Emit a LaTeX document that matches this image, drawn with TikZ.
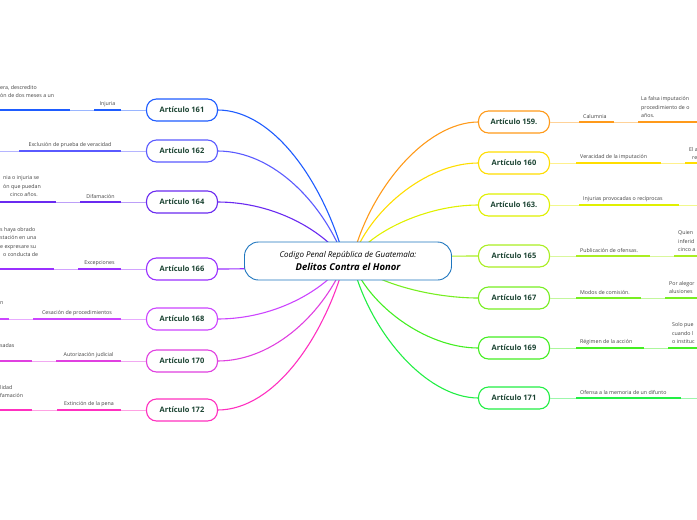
\documentclass[tikz,border=0pt]{standalone}
\usepackage{fontspec}
\setmainfont{Open Sans}
\definecolor{cA}{HTML}{1E5CFF}
\definecolor{cB}{HTML}{5A5AFF}
\definecolor{cC}{HTML}{6A2AF0}
\definecolor{cD}{HTML}{9A30FF}
\definecolor{cE}{HTML}{CC44FF}
\definecolor{cF}{HTML}{E040E0}
\definecolor{cG}{HTML}{FF30C0}
\definecolor{dA}{HTML}{FF9A1A}
\definecolor{dB}{HTML}{FFDD00}
\definecolor{dC}{HTML}{E0F000}
\definecolor{dD}{HTML}{AAEE22}
\definecolor{dE}{HTML}{77EE22}
\definecolor{dF}{HTML}{44EE22}
\definecolor{dG}{HTML}{22EE44}
\definecolor{dark}{HTML}{1B4332}
\tikzset{
 art/.style={draw=#1,line width=1.1pt,fill=white,rounded corners=10pt,minimum width=71pt,minimum height=22pt,font=\fontsize{7.5}{9}\selectfont\bfseries,text=dark},
 topic/.style={font=\fontsize{5.3}{6.5}\selectfont,text=black!75,inner sep=1pt,anchor=south},
 note/.style={font=\fontsize{5.3}{8.5}\selectfont,text=black!75,align=left,inner sep=0pt},
 conn/.style={line width=1.1pt,draw=#1},
 base/.style={line width=0.7pt,draw=#1!45},
 ul/.style={line width=1.5pt,draw=#1},
}
\begin{document}
\begin{tikzpicture}[x=1pt,y=-1pt]
\useasboundingbox (0,0) rectangle (697,520);
\coordinate (cl) at (345,261);
\coordinate (cr) at (352,261);
% left side
\foreach \n/\y/\c/\t/\ua/\ub/\k in {a/110/cA/Injuria/94/121/70, b/151/cB/Exclusión de prueba de veracidad/19/121/0, c/202/cC/Difamación/80/121/56, d/269/cD/Excepciones/78/121/54, e/319/cE/Cesación de procedimientos/33/121/9, f/361/cF/Autorización judicial/56/121/32, g/410/cG/Extinción de la pena/57/121/32}{
 \coordinate (L\n) at (0,\y);
 \draw[conn=\c] (182+35.5,\y) .. controls (275,\y) and (325,{(\y+261)/2}) .. (cl);
 \node[art=\c] (A\n) at (182,\y) {};
 \draw[base=\c] (A\n.west) -- (L\n);
 \draw[ul=\c] (\ua,\y) -- (\ub,\y);
 \ifnum\k>0 \draw[ul=\c] (0,\y) -- (\k,\y);\fi
 \node[topic] (T\n) at ({(\ua+\ub)/2},\y-2) {\t};
}
\node[font=\fontsize{7.5}{9}\selectfont\bfseries,text=dark] at (Aa) {Artículo 161};
\node[font=\fontsize{7.5}{9}\selectfont\bfseries,text=dark] at (Ab) {Artículo 162};
\node[font=\fontsize{7.5}{9}\selectfont\bfseries,text=dark] at (Ac) {Artículo 164};
\node[font=\fontsize{7.5}{9}\selectfont\bfseries,text=dark] at (Ad) {Artículo 166};
\node[font=\fontsize{7.5}{9}\selectfont\bfseries,text=dark] at (Ae) {Artículo 168};
\node[font=\fontsize{7.5}{9}\selectfont\bfseries,text=dark] at (Af) {Artículo 170};
\node[font=\fontsize{7.5}{9}\selectfont\bfseries,text=dark] at (Ag) {Artículo 172};
\node[note,anchor=south west] (Na) at (0,98) {era, descredito\\ón de dos meses a un};
\node[note,anchor=south west] (Nc) at (3,197) {nia o injuria se\\ón que puedan\\\hspace*{7pt}cinco años.};
\node[note,anchor=south west] (Nd) at (0,257) {s haya obrado\\stación en una\\e expresare su\\\hspace*{3pt}o conducta de};
\node[note,anchor=south west] (Ne) at (0,305) {n};
\node[note,anchor=south west] (Nf) at (0,348) {sadas};
\node[note,anchor=south west] (Ng) at (0,398) {lidad\\famación};
% right side
\foreach \n/\y/\c/\t/\ua/\ub/\k in {a/122/dA/Calumnia/579/614/638, b/163/dB/Veracidad de la imputación/576/661/685, c/205/dC/Injurias provocadas o recíprocas/579/679/0, d/256/dD/Publicación de ofensas./576/650/674, e/298/dE/Modos de comisión./576/641/665, f/348/dF/Régimen de la acción/576/644/668, g/398/dG/Ofensa a la memoria de un difunto/576/681/0}{
 \coordinate (R\n) at (697,\y);
 \draw[conn=\c] (514-35.5,\y) .. controls (425,\y) and (368,{(\y+261)/2}) .. (cr);
 \node[art=\c] (B\n) at (514,\y) {};
 \draw[base=\c] (B\n.east) -- (R\n);
 \draw[ul=\c] (\ua,\y) -- (\ub,\y);
 \ifnum\k>0 \draw[ul=\c] (\k,\y) -- (697,\y);\fi
 \node[topic,anchor=south west] (U\n) at (\ua+3,\y-2) {\t};
}
\node[font=\fontsize{7.5}{9}\selectfont\bfseries,text=dark] at (Ba) {Artículo 159.};
\node[font=\fontsize{7.5}{9}\selectfont\bfseries,text=dark] at (Bb) {Artículo 160};
\node[font=\fontsize{7.5}{9}\selectfont\bfseries,text=dark] at (Bc) {Artículo 163.};
\node[font=\fontsize{7.5}{9}\selectfont\bfseries,text=dark] at (Bd) {Artículo 165};
\node[font=\fontsize{7.5}{9}\selectfont\bfseries,text=dark] at (Be) {Artículo 167};
\node[font=\fontsize{7.5}{9}\selectfont\bfseries,text=dark] at (Bf) {Artículo 169};
\node[font=\fontsize{7.5}{9}\selectfont\bfseries,text=dark] at (Bg) {Artículo 171};
\node[note,anchor=south west] (Ma) at (641,118) {La falsa imputación\\procedimiento de o\\años.};
\node[note,anchor=south west] (Mb) at (689,160) {El a\\\hspace*{3pt}res};
\node[note,anchor=south west] (Md) at (678,252) {Quien\\inferid\\cinco a};
\node[note,anchor=south west] (Me) at (669,294) {Por alegor\\alusiones};
\node[note,anchor=south west] (Mf) at (672,344) {Solo pue\\cuando l\\o instituc};
% center
\node[draw=black!10!cyan!60!blue,line width=0.9pt,fill=white,rounded corners=14pt,minimum width=207pt,minimum height=38pt,align=center,font=\itshape] (C) at (348,261)
 {{\fontsize{8}{10}\selectfont Codigo Penal República de Guatemala:}\\[1pt]{\fontsize{9.5}{11}\selectfont\bfseries Delitos Contra el Honor}};
\end{tikzpicture}
\end{document}
